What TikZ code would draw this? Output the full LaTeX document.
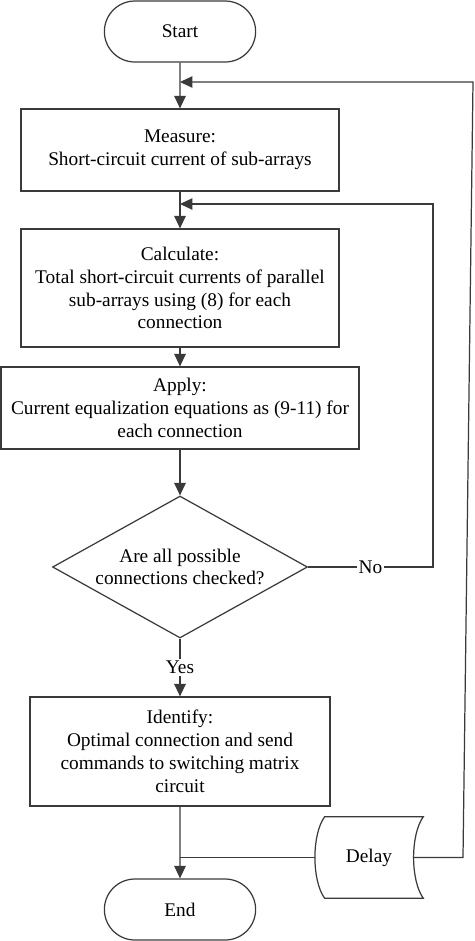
\documentclass[tikz,border=0pt]{standalone}
\usepackage{fontspec}
\setmainfont{Liberation Serif}
\usepackage{xcolor}
\usetikzlibrary{shapes.geometric,shapes.misc,arrows.meta}
\definecolor{linegray}{HTML}{3A3A3A}
\tikzset{
  box/.style={draw=linegray,line width=0.7pt,rectangle,align=center,inner sep=0pt},
  term/.style={draw=linegray,line width=0.7pt,rounded rectangle,minimum width=3.26cm,minimum height=1.22cm},
  flow/.style={draw=linegray,line width=0.7pt,-{Triangle[length=0.25cm,width=0.23cm]}},
  line/.style={draw=linegray,line width=0.7pt},
  lab/.style={fill=white,inner sep=1pt}
}
\begin{document}
\begin{tikzpicture}[x=0.02cm,y=-0.02cm,font=\rmfamily\fontsize{11}{13}\selectfont]
      \useasboundingbox (0,0) rectangle (474,941);
      \node[term] (S) at (180,31.5) {Start};
      \node[box,minimum width=6.36cm,minimum height=1.64cm] (M) at (180,150) {Measure:\\Short-circuit current of sub-arrays};
      \node[box,minimum width=6.36cm,minimum height=2.36cm] (C) at (180,288) {Calculate:\\Total short-circuit currents of parallel\\sub-arrays using (8) for each\\connection};
      \node[box,minimum width=7.16cm,minimum height=1.64cm] (A) at (180,408) {Apply:\\Current equalization equations as (9-11) for\\each connection};
      \node[diamond,draw=linegray,line width=0.7pt,aspect=1.8,inner sep=0pt,align=center,minimum width=5.1cm,minimum height=2.84cm] (Q) at (180,567) {Are all possible\\connections checked?};
      \node[box,minimum width=6cm,minimum height=2.18cm] (I) at (180,751.5) {Identify:\\Optimal connection and send\\commands to switching matrix\\circuit};
      \node[term] (E) at (180,909.5) {End};
      \node[minimum width=2.16cm,minimum height=1.62cm] (D) at (369,857.5) {Delay};
        % delay outline
      \draw[line] ([xshift=0.2cm]D.north west) -- (D.north east)
          .. controls ([xshift=-0.26cm,yshift=-0.36cm]D.north east) and ([xshift=-0.26cm,yshift=0.36cm]D.south east) .. (D.south east)
          -- ([xshift=0.2cm]D.south west)
          .. controls ([xshift=-0.06cm,yshift=0.36cm]D.south west) and ([xshift=-0.06cm,yshift=-0.36cm]D.north west) .. cycle;
      \coordinate (R1) at (433,204);
      \coordinate (R2) at (473,82);
      \draw[flow] (S) -- (M);
      \draw[flow] (M) -- (C);
      \draw[flow] (C) -- (A);
      \draw[flow] (A) -- (Q);
      \draw[flow] (Q) -- node[lab] {Yes} (I);
      \draw[flow] (I) -- (E);
      \draw[line] (D.west) -- (D.west -| I.south);
        % loops back
      \draw[flow] (Q.east) -- node[lab] {No} (Q.east -| R1) -- (R1) -- (R1 -| M.south);
      \draw[flow] ([xshift=-0.2cm]D.east) -- ([xshift=-0.2cm]D.east -| R2) -- (R2) -- (R2 -| S.south);
\end{tikzpicture}
\end{document}
